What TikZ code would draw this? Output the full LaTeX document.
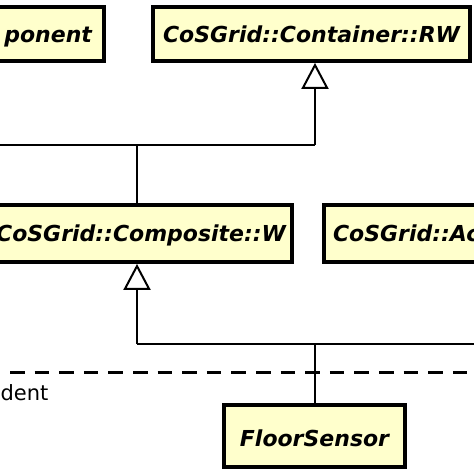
\documentclass[tikz,border=0pt]{standalone}
\usepackage{fontspec}
\setmainfont{DejaVu Sans}
\usetikzlibrary{arrows.meta}
\definecolor{umlfill}{RGB}{255,255,204}
\begin{document}
\begin{tikzpicture}[x=1pt,y=-1pt,
  cls/.style={draw=black, fill=umlfill, line width=3.8pt, rectangle,
    font=\fontsize{22pt}{26pt}\selectfont\bfseries\itshape,
    text height=16pt, text depth=0pt, inner sep=0pt},
  conn/.style={line width=2pt, draw=black},
  inh/.style={-{Triangle[open, length=26pt, width=27pt, line width=2pt]}},
  sep/.style={line width=3pt, dash pattern=on 14.5pt off 10.1pt},
  lbl/.style={font=\fontsize{21pt}{25pt}\selectfont, inner sep=0pt}
]
\useasboundingbox (0,0) rectangle (474,474);
\clip (0,0) rectangle (474,474);

% classes
\node[cls, minimum width=304pt, minimum height=54pt, text width=280pt,
      inner xsep=12pt, align=right] (comp0) at (-48,34) {ponent};
\node[cls, minimum width=317pt, minimum height=54pt] (cont) at (311.5,34) {CoSGrid::Container::RW};
\node[cls, minimum width=352pt, minimum height=57pt, text width=340pt,
      inner xsep=6pt, align=right] (compw) at (116,233.5) {CoSGrid::Composite::W};
\node[cls, minimum width=300pt, minimum height=57pt, text width=282pt,
      inner xsep=9pt, align=left] (ac) at (474,233.5) {CoSGrid::Ac};
\node[cls, minimum width=181pt, minimum height=62pt, text height=21pt] (floor) at (314.5,436) {FloorSensor};

% junctions
\coordinate (offL) at (-20,145);
\coordinate (c1) at (137,145);
\coordinate (j1) at (315,145);
\coordinate (c2) at (137,344);
\coordinate (j3) at (315,344);
\coordinate (offR) at (500,344);

% connectors
\draw[conn] (offL) -- (j1);
\draw[conn] (c1) -- (c1 |- compw.north);
\draw[conn, inh] (j1) -- (j1 |- cont.south);
\draw[conn, inh] (c2) -- (c2 |- compw.south);
\draw[conn] (c2) -- (offR);
\draw[conn] (j3) -- (j3 |- floor.north);

% separator
\coordinate (dL) at (-39.2,372);
\coordinate (dR) at (467.3,372);
\draw[sep] (dL) -- (dR);
\node[lbl, anchor=base east] (dent) at (48.5,400) {dent};
\end{tikzpicture}
\end{document}
